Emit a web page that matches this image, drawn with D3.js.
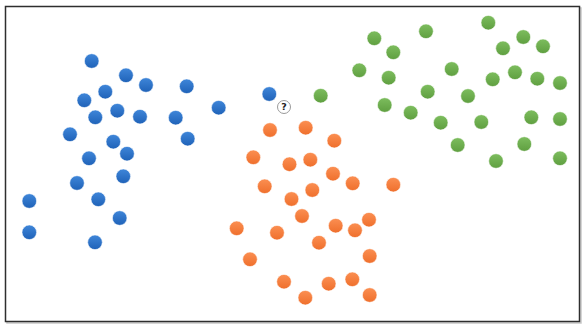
<!DOCTYPE html>
<html>
<head>
<meta charset="utf-8">
<script src="https://cdn.jsdelivr.net/npm/d3@7/dist/d3.min.js"></script>
<style>
  html, body { margin: 0; padding: 0; background: #fff; }
  svg { display: block; }
</style>
</head>
<body>
<svg id="chart" width="588" height="328"></svg>
<script>
// Data (x, y) values, domain x: 0..574, y: 0..315
const blueX = [85.7,120,140,180.7,99.3,78.3,263.3,111.3,89.3,134,169.7,212.7,64,181.7,107.3,121,83,117.3,71,23.3,92.3,113.7,23.3,89];
const blueY = [261,246.7,237,235.7,230.3,221.7,228,211.3,204.7,205.3,204.3,214.3,187.7,183.3,180.3,168.3,163.7,145.7,139,121,122.7,104,89.7,79.7];

const orangeX = [264,299.7,328.3,247.3,283.5,304.3,327,258.7,285.5,306.3,346.7,387.3,296,329.7,349,363,230.7,271,313,244,363.7,278,322.7,346.3,299.3,363.7];
const orangeY = [192,194.3,181.3,164.7,157.8,162.3,148.3,135.7,123,132,138.7,137.3,106,96.3,91.7,102.3,93.7,89.3,79.3,62.7,66,40.3,38.3,42.7,24.3,27];

const greenX = [482.3,420,368.3,517.3,387.3,497,537,353.3,382.7,445.7,486.7,509,531.3,554,314.7,421.7,462,378.7,404.7,434.7,475.3,525.3,554,451.7,518.3,490,554];
const greenY = [299.3,290.7,283.7,285,269.7,273.7,275.7,251.7,244.3,253,242.7,249.7,243.3,239,226.3,230.3,226,217,209.3,199.3,200,204.7,203,177,178,161,163.7];

const unknownX = [278];
const unknownY = [215];
const unknownLabel = ["?"];

const seriesNames = ["blue", "orange", "green"];

const svg = d3.select("#chart");
const x = d3.scaleLinear().domain([0, 574]).range([6, 580]);
const y = d3.scaleLinear().domain([0, 315]).range([322, 7]);

const defs = svg.append("defs");
const grads = [
  {id: "blue", top: "#3f86d9", bot: "#1f62b8"},
  {id: "orange", top: "#fb8f52", bot: "#ef6f2c"},
  {id: "green", top: "#7dbd5e", bot: "#5f9f40"}
];
grads.forEach(g => {
  const lg = defs.append("linearGradient").attr("id", "g-" + g.id)
    .attr("x1", 0).attr("y1", 0).attr("x2", 0).attr("y2", 1);
  lg.append("stop").attr("offset", "0%").attr("stop-color", g.top);
  lg.append("stop").attr("offset", "100%").attr("stop-color", g.bot);
});

// frame shadow + frame
svg.append("rect")
  .attr("x", x(0) + 1).attr("y", y(315) + 1)
  .attr("width", x(574) - x(0)).attr("height", y(0) - y(315))
  .attr("fill", "none").attr("stroke", "#c8c8c8").attr("stroke-width", 1.5);
svg.append("rect")
  .attr("x", x(0) - 0.5).attr("y", y(315) - 0.5)
  .attr("width", x(574) - x(0)).attr("height", y(0) - y(315))
  .attr("fill", "#fff").attr("stroke", "#2e2e2e").attr("stroke-width", 1.5);

const series = [
  {name: seriesNames[0], xs: blueX, ys: blueY},
  {name: seriesNames[1], xs: orangeX, ys: orangeY},
  {name: seriesNames[2], xs: greenX, ys: greenY}
];

series.forEach(s => {
  const pts = s.xs.map((v, i) => ({x: v, y: s.ys[i]}));
  svg.append("g").attr("class", "series-" + s.name)
    .selectAll("circle").data(pts).join("circle")
    .attr("cx", d => x(d.x))
    .attr("cy", d => y(d.y))
    .attr("r", 7.3)
    .attr("fill", "url(#g-" + s.name + ")")
    .attr("stroke", "#ffffff").attr("stroke-opacity", 0.7).attr("stroke-width", 0.8);
});

const unk = unknownX.map((v, i) => ({x: v, y: unknownY[i], label: unknownLabel[i]}));
const ug = svg.append("g").selectAll("g").data(unk).join("g")
  .attr("transform", d => `translate(${x(d.x)},${y(d.y)})`);
ug.append("circle").attr("r", 6.5).attr("fill", "#fff").attr("stroke", "#9a9a9a").attr("stroke-width", 1);
ug.append("text").text(d => d.label)
  .attr("text-anchor", "middle").attr("dy", "0.36em")
  .attr("font-family", "DejaVu Sans, sans-serif").attr("font-weight", "bold")
  .attr("font-size", 9.5).attr("fill", "#222");
</script>
</body>
</html>
